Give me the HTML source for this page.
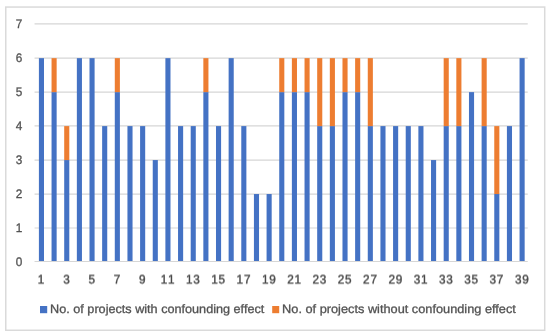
<!DOCTYPE html>
<html><head><meta charset="utf-8"><title>Chart</title>
<style>html,body{margin:0;padding:0;background:#fff}svg{display:block}.xl text{fill:#484848;stroke:#484848;stroke-width:0.4px}text{text-rendering:geometricPrecision;font-family:"Liberation Sans",sans-serif;fill:#525252;stroke:#525252;stroke-width:0.3px}</style></head><body>
<svg width="550" height="335" viewBox="0 0 550 335">
<defs><filter id="hs" x="28" y="266" width="514" height="26" filterUnits="userSpaceOnUse" color-interpolation-filters="sRGB"><feConvolveMatrix order="1 2" kernelMatrix="0.5 0.5" edgeMode="none" preserveAlpha="false"/></filter></defs>
<rect x="0" y="0" width="550" height="335" fill="#fff"/>
<rect x="5.75" y="7.05" width="538.95" height="323.2" fill="#fff" stroke="#dadada" stroke-width="1.5"/>
<line x1="34.55" y1="261.5" x2="527.75" y2="261.5" stroke="#d6d6d6" stroke-width="1.2"/>
<text transform="translate(19 266) scale(0.95 1)" font-size="12.4" text-anchor="middle">0</text>
<line x1="34.55" y1="228.0" x2="527.75" y2="228.0" stroke="#d6d6d6" stroke-width="1.2"/>
<text transform="translate(19 232) scale(0.95 1)" font-size="12.4" text-anchor="middle">1</text>
<line x1="34.55" y1="194.05" x2="527.75" y2="194.05" stroke="#d6d6d6" stroke-width="1.2"/>
<text transform="translate(19 198) scale(0.95 1)" font-size="12.4" text-anchor="middle">2</text>
<line x1="34.55" y1="160.1" x2="527.75" y2="160.1" stroke="#d6d6d6" stroke-width="1.2"/>
<text transform="translate(19 164) scale(0.95 1)" font-size="12.4" text-anchor="middle">3</text>
<line x1="34.55" y1="125.95" x2="527.75" y2="125.95" stroke="#d6d6d6" stroke-width="1.2"/>
<text transform="translate(19 130) scale(0.95 1)" font-size="12.4" text-anchor="middle">4</text>
<line x1="34.55" y1="92.05" x2="527.75" y2="92.05" stroke="#d6d6d6" stroke-width="1.2"/>
<text transform="translate(19 96) scale(0.95 1)" font-size="12.4" text-anchor="middle">5</text>
<line x1="34.55" y1="58.15" x2="527.75" y2="58.15" stroke="#d6d6d6" stroke-width="1.2"/>
<text transform="translate(19 62) scale(0.95 1)" font-size="12.4" text-anchor="middle">6</text>
<line x1="34.55" y1="23.8" x2="527.75" y2="23.8" stroke="#d6d6d6" stroke-width="1.2"/>
<text transform="translate(19 28) scale(0.95 1)" font-size="12.4" text-anchor="middle">7</text>
<rect x="38.90" y="58.15" width="5.1" height="202.85" fill="#4472c4"/>
<rect x="51.55" y="92.12" width="5.1" height="168.88" fill="#4472c4"/>
<rect x="51.55" y="58.15" width="5.1" height="33.97" fill="#ed7d31"/>
<rect x="64.20" y="160.06" width="5.1" height="100.94" fill="#4472c4"/>
<rect x="64.20" y="126.09" width="5.1" height="33.97" fill="#ed7d31"/>
<rect x="76.85" y="58.15" width="5.1" height="202.85" fill="#4472c4"/>
<rect x="89.50" y="58.15" width="5.1" height="202.85" fill="#4472c4"/>
<rect x="102.14" y="126.09" width="5.1" height="134.91" fill="#4472c4"/>
<rect x="114.79" y="92.12" width="5.1" height="168.88" fill="#4472c4"/>
<rect x="114.79" y="58.15" width="5.1" height="33.97" fill="#ed7d31"/>
<rect x="127.44" y="126.09" width="5.1" height="134.91" fill="#4472c4"/>
<rect x="140.09" y="126.09" width="5.1" height="134.91" fill="#4472c4"/>
<rect x="152.74" y="160.06" width="5.1" height="100.94" fill="#4472c4"/>
<rect x="165.39" y="58.15" width="5.1" height="202.85" fill="#4472c4"/>
<rect x="178.04" y="126.09" width="5.1" height="134.91" fill="#4472c4"/>
<rect x="190.69" y="126.09" width="5.1" height="134.91" fill="#4472c4"/>
<rect x="203.34" y="92.12" width="5.1" height="168.88" fill="#4472c4"/>
<rect x="203.34" y="58.15" width="5.1" height="33.97" fill="#ed7d31"/>
<rect x="215.99" y="126.09" width="5.1" height="134.91" fill="#4472c4"/>
<rect x="228.63" y="58.15" width="5.1" height="202.85" fill="#4472c4"/>
<rect x="241.28" y="126.09" width="5.1" height="134.91" fill="#4472c4"/>
<rect x="253.93" y="194.03" width="5.1" height="66.97" fill="#4472c4"/>
<rect x="266.58" y="194.03" width="5.1" height="66.97" fill="#4472c4"/>
<rect x="279.23" y="92.12" width="5.1" height="168.88" fill="#4472c4"/>
<rect x="279.23" y="58.15" width="5.1" height="33.97" fill="#ed7d31"/>
<rect x="291.88" y="92.12" width="5.1" height="168.88" fill="#4472c4"/>
<rect x="291.88" y="58.15" width="5.1" height="33.97" fill="#ed7d31"/>
<rect x="304.53" y="92.12" width="5.1" height="168.88" fill="#4472c4"/>
<rect x="304.53" y="58.15" width="5.1" height="33.97" fill="#ed7d31"/>
<rect x="317.18" y="126.09" width="5.1" height="134.91" fill="#4472c4"/>
<rect x="317.18" y="58.15" width="5.1" height="67.94" fill="#ed7d31"/>
<rect x="329.83" y="126.09" width="5.1" height="134.91" fill="#4472c4"/>
<rect x="329.83" y="58.15" width="5.1" height="67.94" fill="#ed7d31"/>
<rect x="342.48" y="92.12" width="5.1" height="168.88" fill="#4472c4"/>
<rect x="342.48" y="58.15" width="5.1" height="33.97" fill="#ed7d31"/>
<rect x="355.12" y="92.12" width="5.1" height="168.88" fill="#4472c4"/>
<rect x="355.12" y="58.15" width="5.1" height="33.97" fill="#ed7d31"/>
<rect x="367.77" y="126.09" width="5.1" height="134.91" fill="#4472c4"/>
<rect x="367.77" y="58.15" width="5.1" height="67.94" fill="#ed7d31"/>
<rect x="380.42" y="126.09" width="5.1" height="134.91" fill="#4472c4"/>
<rect x="393.07" y="126.09" width="5.1" height="134.91" fill="#4472c4"/>
<rect x="405.72" y="126.09" width="5.1" height="134.91" fill="#4472c4"/>
<rect x="418.37" y="126.09" width="5.1" height="134.91" fill="#4472c4"/>
<rect x="431.02" y="160.06" width="5.1" height="100.94" fill="#4472c4"/>
<rect x="443.67" y="126.09" width="5.1" height="134.91" fill="#4472c4"/>
<rect x="443.67" y="58.15" width="5.1" height="67.94" fill="#ed7d31"/>
<rect x="456.32" y="126.09" width="5.1" height="134.91" fill="#4472c4"/>
<rect x="456.32" y="58.15" width="5.1" height="67.94" fill="#ed7d31"/>
<rect x="468.97" y="92.12" width="5.1" height="168.88" fill="#4472c4"/>
<rect x="481.61" y="126.09" width="5.1" height="134.91" fill="#4472c4"/>
<rect x="481.61" y="58.15" width="5.1" height="67.94" fill="#ed7d31"/>
<rect x="494.26" y="194.03" width="5.1" height="66.97" fill="#4472c4"/>
<rect x="494.26" y="126.09" width="5.1" height="67.94" fill="#ed7d31"/>
<rect x="506.91" y="126.09" width="5.1" height="134.91" fill="#4472c4"/>
<rect x="519.56" y="58.15" width="5.1" height="202.85" fill="#4472c4"/>
<g filter="url(#hs)" class="xl"><text transform="translate(41.15 283) scale(0.95 1)" x="0.00" font-size="12.4" text-anchor="middle">1</text><text transform="translate(66.45 283) scale(0.95 1)" x="0.00" font-size="12.4" text-anchor="middle">3</text><text transform="translate(91.75 283) scale(0.95 1)" x="0.00" font-size="12.4" text-anchor="middle">5</text><text transform="translate(117.04 283) scale(0.95 1)" x="0.00" font-size="12.4" text-anchor="middle">7</text><text transform="translate(142.34 283) scale(0.95 1)" x="0.00" font-size="12.4" text-anchor="middle">9</text><text transform="translate(167.64 283) scale(0.95 1)" x="-3.84 3.84" font-size="12.4" text-anchor="middle">11</text><text transform="translate(192.94 283) scale(0.95 1)" x="-3.84 3.84" font-size="12.4" text-anchor="middle">13</text><text transform="translate(218.24 283) scale(0.95 1)" x="-3.84 3.84" font-size="12.4" text-anchor="middle">15</text><text transform="translate(243.53 283) scale(0.95 1)" x="-3.84 3.84" font-size="12.4" text-anchor="middle">17</text><text transform="translate(268.83 283) scale(0.95 1)" x="-3.84 3.84" font-size="12.4" text-anchor="middle">19</text><text transform="translate(294.13 283) scale(0.95 1)" x="-3.84 3.84" font-size="12.4" text-anchor="middle">21</text><text transform="translate(319.43 283) scale(0.95 1)" x="-3.84 3.84" font-size="12.4" text-anchor="middle">23</text><text transform="translate(344.73 283) scale(0.95 1)" x="-3.84 3.84" font-size="12.4" text-anchor="middle">25</text><text transform="translate(370.02 283) scale(0.95 1)" x="-3.84 3.84" font-size="12.4" text-anchor="middle">27</text><text transform="translate(395.32 283) scale(0.95 1)" x="-3.84 3.84" font-size="12.4" text-anchor="middle">29</text><text transform="translate(420.62 283) scale(0.95 1)" x="-3.84 3.84" font-size="12.4" text-anchor="middle">31</text><text transform="translate(445.92 283) scale(0.95 1)" x="-3.84 3.84" font-size="12.4" text-anchor="middle">33</text><text transform="translate(471.22 283) scale(0.95 1)" x="-3.84 3.84" font-size="12.4" text-anchor="middle">35</text><text transform="translate(496.51 283) scale(0.95 1)" x="-3.84 3.84" font-size="12.4" text-anchor="middle">37</text><text transform="translate(521.81 283) scale(0.95 1)" x="-3.84 3.84" font-size="12.4" text-anchor="middle">39</text></g>
<rect x="40" y="306" width="7.2" height="7.2" fill="#4472c4"/>
<text x="50.1" y="313" font-size="12.2" textLength="214.2" lengthAdjust="spacingAndGlyphs">No. of projects with confounding effect</text>
<rect x="272.2" y="306" width="7" height="7.2" fill="#ed7d31"/>
<text x="282.1" y="313" font-size="12.2" textLength="233.8" lengthAdjust="spacingAndGlyphs">No. of projects without confounding effect</text>
</svg></body></html>
